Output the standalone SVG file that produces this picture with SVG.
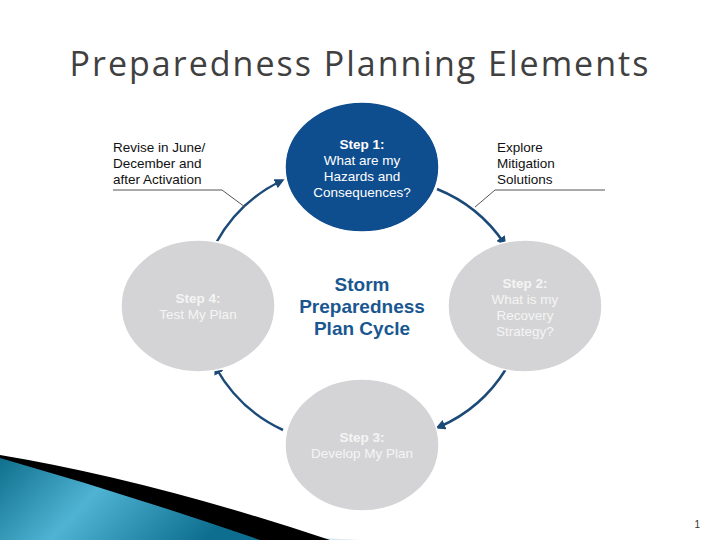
<svg xmlns="http://www.w3.org/2000/svg" width="720" height="540" viewBox="0 0 720 540">
<defs>
<style>
.t{font-family:"Liberation Sans",Arial,sans-serif}
.ann{font-size:13.5px;fill:#111}
.w{fill:#fff;font-size:13.5px;text-anchor:middle}
.g{fill:#f4f4f4;font-size:13.5px;text-anchor:middle}
.gc{fill:#d4d4d6;stroke:#fff;stroke-width:1.5}
.arc{fill:none;stroke:#1c4a78;stroke-width:2.5;marker-end:url(#ah)}
.co{fill:none;stroke:#555;stroke-width:1}
</style>
<marker id="ah" viewBox="0 0 10 10" refX="6" refY="5" markerWidth="4" markerHeight="4" orient="auto"><path d="M0,0L10,5L0,10z" fill="#1c4a78"/></marker>
<linearGradient id="tg" x1="0" y1="0" x2="1" y2="0.3"><stop offset="0" stop-color="#0f6f8c"/><stop offset="0.45" stop-color="#4fb3d3"/><stop offset="1" stop-color="#0d6e8f"/></linearGradient>
</defs>
<rect width="720" height="540" fill="#fff"/>
<text x="360" y="76" text-anchor="middle" font-family="Open Sans,sans-serif" font-size="34" letter-spacing="2" fill="#404040">Preparedness Planning Elements</text>
<g id="deco">
<path d="M0,520 L360,540 L0,540z" fill="#d8e9f3"/>
<path d="M0,455 Q150,480 330,540 L0,540z" fill="#000"/>
<path d="M0,458 Q130,495 260,540 L0,540z" fill="url(#tg)"/>
</g>
<g id="connectors">
<path class="arc" d="M216,243 A148,148 0 0 1 281,181"/>
<path class="arc" d="M437,189 A148,148 0 0 1 504,243"/>
<path class="arc" d="M506,369 A148,148 0 0 1 439,427"/>
<path class="arc" d="M283,430 A148,148 0 0 1 216,368"/>
<polyline class="co" points="113,190 222,190 245,207"/>
<polyline class="co" points="605,190 495,190 475,207"/>
</g>
<g id="step1"><ellipse cx="362" cy="167" rx="77" ry="65" fill="#0e4d8e" stroke="#fff" stroke-width="1.5"/>
<text class="t w" x="362" y="149" font-weight="bold">Step 1:</text>
<text class="t w" x="362" y="165">What are my</text>
<text class="t w" x="362" y="181">Hazards and</text>
<text class="t w" x="362" y="197">Consequences?</text></g>
<g id="step2"><ellipse class="gc" cx="525" cy="306" rx="77" ry="66"/>
<text class="t g" x="525" y="288" font-weight="bold">Step 2:</text>
<text class="t g" x="525" y="304">What is my</text>
<text class="t g" x="525" y="320">Recovery</text>
<text class="t g" x="525" y="336">Strategy?</text></g>
<g id="step3"><ellipse class="gc" cx="362" cy="445" rx="77" ry="66"/>
<text class="t g" x="362" y="442" font-weight="bold">Step 3:</text>
<text class="t g" x="362" y="458">Develop My Plan</text></g>
<g id="step4"><ellipse class="gc" cx="198" cy="306" rx="77" ry="66"/>
<text class="t g" x="198" y="303" font-weight="bold">Step 4:</text>
<text class="t g" x="198" y="319">Test My Plan</text></g>
<g id="center" class="t" font-size="19" font-weight="bold" fill="#1a5790" text-anchor="middle">
<text x="362" y="291">Storm</text><text x="362" y="313">Preparedness</text><text x="362" y="335">Plan Cycle</text></g>
<g id="notes" class="t ann">
<text x="113" y="152">Revise in June/</text><text x="113" y="168">December and</text><text x="113" y="184">after Activation</text>
<text x="497" y="152">Explore</text><text x="497" y="168">Mitigation</text><text x="497" y="184">Solutions</text></g>
<text class="t" x="700" y="528" font-size="10" fill="#333" text-anchor="end">1</text>
</svg>
